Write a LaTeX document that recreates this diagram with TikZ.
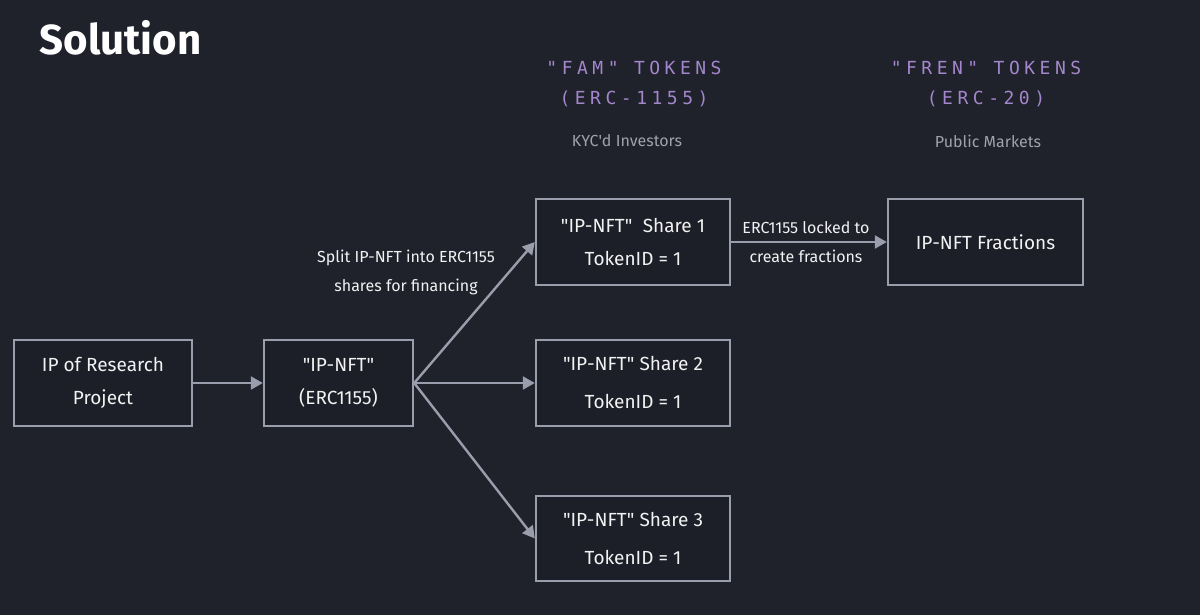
\documentclass[tikz,border=0pt]{standalone}
\usepackage{fontspec}
\usetikzlibrary{arrows.meta}
\newfontfamily\fira{Fira Sans}
\newfontfamily\monosp{DejaVu Sans Mono}[LetterSpace=25]
\definecolor{bg}{HTML}{1F222B}
\definecolor{boxfill}{HTML}{1C1F27}
\definecolor{edge}{HTML}{9A9DAB}
\definecolor{txt}{HTML}{F2F2F2}
\definecolor{sub}{HTML}{9FA1AB}
\definecolor{purp}{HTML}{A386CB}
\begin{document}
\begin{tikzpicture}[x=1pt,y=-1pt,
  box/.style={draw=edge, fill=boxfill, line width=2.4pt, align=center, text=txt,
    font={\fira\fontsize{19}{33}\selectfont}, inner sep=0pt},
  widebox/.style={box, font={\fira\fontsize{19}{38}\selectfont}},
  conn/.style={draw=edge, line width=2.4pt, -{Triangle[length=12pt,width=13pt]}},
  lbl/.style={align=center, text=txt, font={\fira\fontsize{16}{29}\selectfont}},
  head/.style={align=center, text=purp, font={\monosp\fontsize{18}{30}\selectfont}},
  subhead/.style={text=sub, font={\fira\fontsize{16}{20}\selectfont}}]
\fill[bg] (0,0) rectangle (1200,615);
\useasboundingbox (0,0) rectangle (1200,615);

\node[anchor=west, text=white, font={\fira\bfseries\fontsize{42}{48}\selectfont}] (title) at (36,38) {Solution};

\node[head] (fam) at (634,84) {"FAM" TOKENS\\(ERC-1155)};
\node[subhead] (kyc) at (627,141) {KYC'd Investors};
\node[head] (fren) at (986,84) {"FREN" TOKENS\\(ERC-20)};
\node[subhead] (pub) at (988,141) {Public Markets};

\node[box, minimum width=178pt, minimum height=86pt] (ip) at (103,383) {IP of Research\\Project};
\node[box, minimum width=149pt, minimum height=86pt] (nft) at (338.5,383) {"IP-NFT"\\(ERC1155)};
\node[box, minimum width=194pt, minimum height=86pt] (s1) at (633,242) {"IP-NFT"\hspace{0.55em}Share 1\\TokenID = 1};
\node[widebox, minimum width=194pt, minimum height=86pt] (s2) at (633,383) {"IP-NFT" Share 2\\TokenID = 1};
\node[widebox, minimum width=194pt, minimum height=85pt] (s3) at (633,538.5) {"IP-NFT" Share 3\\TokenID = 1};
\node[box, minimum width=195pt, minimum height=86pt] (fr) at (985.5,242) {IP-NFT Fractions};

\draw[conn] (ip.east) -- (nft.west);
\draw[conn] (nft.east) -- (s1.west);
\draw[conn] (nft.east) -- (s2.west);
\draw[conn] (nft.east) -- (s3.west);
\draw[conn] (s1.east) -- (fr.west);

\node[lbl] (split) at (406,272) {Split IP-NFT into ERC1155\\shares for financing};
\node[lbl] (lock) at (806,242) {ERC1155 locked to\\create fractions};
\end{tikzpicture}
\end{document}
